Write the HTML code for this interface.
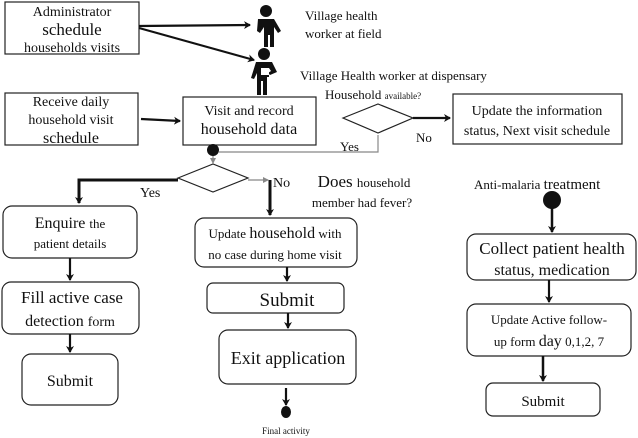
<!DOCTYPE html>
<html><head><meta charset="utf-8"><style>
body{margin:0;background:#fff}
svg{display:block}
text{font-family:"Liberation Serif",serif;fill:#111}
</style></head><body>
<svg width="638" height="438" viewBox="0 0 638 438" xmlns="http://www.w3.org/2000/svg">
<defs>
<marker id="a" markerWidth="8" markerHeight="8" refX="6" refY="4" orient="auto" markerUnits="userSpaceOnUse"><path d="M0,0 L7,4 L0,8 L2,4 Z" fill="#111"/></marker>
<marker id="g" markerWidth="6" markerHeight="6" refX="5" refY="3" orient="auto" markerUnits="userSpaceOnUse"><path d="M0,0 L6,3 L0,6 Z" fill="#888"/></marker>
</defs>
<g fill="none" stroke="#222" stroke-width="1.2">
<rect x="5" y="2" width="134" height="52"/>
<rect x="5" y="93" width="133" height="52"/>
<rect x="183" y="97" width="133" height="48"/>
<rect x="453" y="94" width="169" height="50"/>
<rect x="3" y="206" width="134" height="52" rx="9"/>
<rect x="2" y="282" width="137" height="52" rx="9"/>
<rect x="22" y="354" width="96" height="51" rx="9"/>
<rect x="195" y="218" width="162" height="49" rx="9"/>
<rect x="207" y="283" width="137" height="30" rx="6"/>
<rect x="219" y="330" width="137" height="54" rx="9"/>
<rect x="467" y="234" width="169" height="46" rx="9"/>
<rect x="467" y="304" width="164" height="52" rx="9"/>
<rect x="486" y="383" width="114" height="33" rx="7"/>
<polygon points="343,118 378,104 413,118 378,133"/>
<polygon points="178,178 213,164 248,178 213,192"/>
</g>
<g fill="#111">
<circle cx="266" cy="11" r="6"/>
<path d="M258,19 h16 l7,12 l-3,2 l-4,-6 v20 h-4 v-12 h-2 v12 h-4 v-20 l-4,6 l-3,-2 Z"/>
<circle cx="264" cy="54" r="6"/>
<path d="M256,62 h16 l5,10 l-7,3 l-2,-2 l3,-2 l-2,-3 v9 h-2 v18 h-4 v-14 h-2 v14 h-4 v-22 l-3,6 l-3,-1 Z"/>
<rect x="261" y="68" width="8" height="7" fill="#fff"/>
<circle cx="213" cy="150" r="6"/>
<circle cx="552" cy="200" r="9"/>
<ellipse cx="286" cy="412" rx="5" ry="6"/>
</g>
<g stroke="#111" stroke-width="2.2" fill="none">
<line x1="139" y1="26" x2="250" y2="25" marker-end="url(#a)"/>
<line x1="139" y1="28" x2="254" y2="60" marker-end="url(#a)"/>
<line x1="141" y1="119" x2="180" y2="121" marker-end="url(#a)"/>
<line x1="413" y1="118" x2="450" y2="118" marker-end="url(#a)"/>
<polyline points="178,180 79,180 79,203" stroke-width="3" marker-end="url(#a)"/>
<line x1="270" y1="180" x2="270" y2="215" stroke-width="3" marker-end="url(#a)"/>
<line x1="70" y1="258" x2="70" y2="280" marker-end="url(#a)"/>
<line x1="70" y1="334" x2="70" y2="352" marker-end="url(#a)"/>
<line x1="287" y1="267" x2="287" y2="281" marker-end="url(#a)"/>
<line x1="288" y1="313" x2="288" y2="328" marker-end="url(#a)"/>
<line x1="286" y1="388" x2="286" y2="405" marker-end="url(#a)"/>
<line x1="552" y1="205" x2="552" y2="232" stroke-width="2.5" marker-end="url(#a)"/>
<line x1="549" y1="280" x2="549" y2="302" marker-end="url(#a)"/>
<line x1="543" y1="356" x2="543" y2="381" stroke-width="2.5" marker-end="url(#a)"/>
</g>
<g stroke="#888" stroke-width="1.2" fill="none">
<polyline points="219,152 378,152 378,135"/>
<line x1="213" y1="156" x2="213" y2="163" marker-end="url(#g)"/>
<line x1="248" y1="180" x2="268" y2="180" marker-end="url(#g)"/>
</g>
<g text-anchor="middle">
<text x="72" y="16" font-size="14">Administrator</text>
<text x="72" y="35" font-size="17">schedule</text>
<text x="72" y="52" font-size="14">households  visits</text>
<text x="71" y="106" font-size="14">Receive daily</text>
<text x="71" y="124" font-size="14">household  visit</text>
<text x="71" y="143" font-size="16">schedule</text>
<text x="249" y="115" font-size="14">Visit and record</text>
<text x="249" y="134" font-size="16">household data</text>
<text x="537" y="115" font-size="14">Update the information</text>
<text x="537" y="135" font-size="14">status, Next visit schedule</text>
<text x="70" y="228" font-size="16">Enquire <tspan font-size="13">the</tspan></text>
<text x="70" y="248" font-size="13">patient  details</text>
<text x="72" y="303" font-size="17">Fill active case</text>
<text x="70" y="326" font-size="16">detection <tspan font-size="14">form</tspan></text>
<text x="70" y="386" font-size="16">Submit</text>
<text x="275" y="238" font-size="13">Update <tspan font-size="16">household</tspan> with</text>
<text x="275" y="259" font-size="13">no case during home visit</text>
<text x="287" y="306" font-size="19">Submit</text>
<text x="288" y="364" font-size="18">Exit application</text>
<text x="286" y="434" font-size="9">Final activity</text>
<text x="552" y="254" font-size="17">Collect  patient health</text>
<text x="552" y="275" font-size="16">status, medication</text>
<text x="549" y="324" font-size="13">Update  Active  follow-</text>
<text x="549" y="346" font-size="13">up form  <tspan font-size="16">day</tspan> 0,1,2, 7</text>
<text x="543" y="406" font-size="15">Submit</text>
<text x="364" y="187" font-size="17">Does <tspan font-size="13">household</tspan></text>
<text x="362" y="207" font-size="13">member had  fever?</text>
</g>
<text x="305" y="20" font-size="13">Village health</text>
<text x="305" y="38" font-size="13">worker at field</text>
<text x="300" y="80" font-size="13">Village Health worker at dispensary</text>
<text x="325" y="99" font-size="13">Household <tspan font-size="9">available?</tspan></text>
<text x="416" y="142" font-size="13">No</text>
<text x="340" y="151" font-size="13">Yes</text>
<text x="140" y="197" font-size="14">Yes</text>
<text x="273" y="187" font-size="14">No</text>
<text x="474" y="189" font-size="13">Anti-malaria <tspan font-size="15">treatment</tspan></text>
</svg>
</body></html>
